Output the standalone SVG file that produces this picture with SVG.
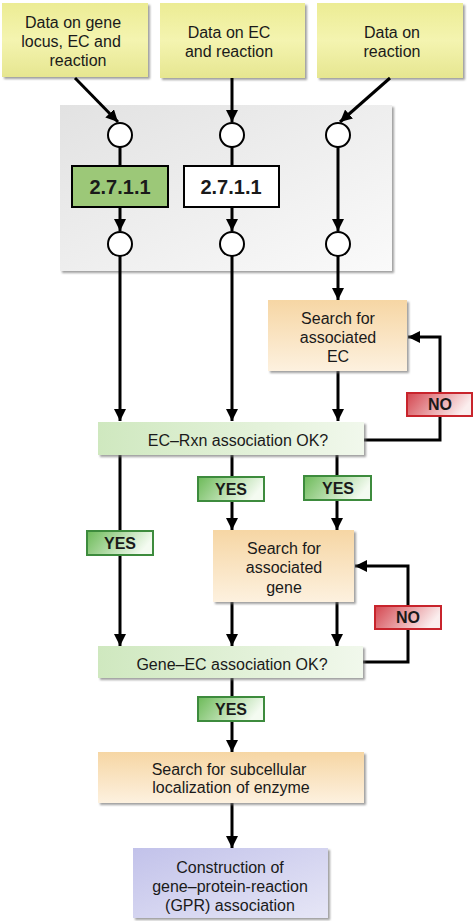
<svg xmlns="http://www.w3.org/2000/svg" width="474" height="921" viewBox="0 0 474 921">
<defs>
<style>
text{font-family:"Liberation Sans",Arial,sans-serif;fill:#1a1a1a;text-anchor:middle}
.t{font-size:16px}
.b{font-size:16px;font-weight:bold}
.ec{font-size:20px;font-weight:bold}
.ln{stroke:#000;stroke-width:3;fill:none}
.cir{fill:#fff;stroke:#000;stroke-width:2}
</style>
<linearGradient id="gy" x1="0" y1="0" x2="0" y2="1"><stop offset="0" stop-color="#ecec94"/><stop offset="0.5" stop-color="#f4f4b0"/><stop offset="1" stop-color="#e6e690"/></linearGradient>
<linearGradient id="gp" x1="0" y1="0" x2="1" y2="1"><stop offset="0" stop-color="#e2e2e2"/><stop offset="1" stop-color="#fafafa"/></linearGradient>
<linearGradient id="go" x1="0" y1="0" x2="0" y2="1"><stop offset="0" stop-color="#f6d6a4"/><stop offset="1" stop-color="#fdf1df"/></linearGradient>
<linearGradient id="gg" x1="0" y1="0" x2="1" y2="0"><stop offset="0" stop-color="#cfe8bf"/><stop offset="1" stop-color="#f1f8ec"/></linearGradient>
<linearGradient id="gv" x1="0" y1="0" x2="1" y2="1"><stop offset="0" stop-color="#c2c2ea"/><stop offset="1" stop-color="#e6e6f6"/></linearGradient>
<linearGradient id="gyes" x1="0" y1="0" x2="1" y2="0.3"><stop offset="0" stop-color="#6cba58"/><stop offset="1" stop-color="#f4fbf1"/></linearGradient>
<linearGradient id="gno" x1="0" y1="0" x2="1" y2="0.3"><stop offset="0" stop-color="#d4464f"/><stop offset="1" stop-color="#fbeeee"/></linearGradient>
<filter id="sh" x="-5%" y="-5%" width="115%" height="115%"><feDropShadow dx="2" dy="2" stdDeviation="1" flood-color="#777" flood-opacity="0.7"/></filter>
<marker id="ar" viewBox="0 0 10 10" refX="10" refY="5" markerWidth="4" markerHeight="4" orient="auto" markerUnits="strokeWidth"><path d="M0,0L10,5L0,10z" fill="#000"/></marker>
</defs>
<rect width="474" height="921" fill="#fff"/>

<g id="panel"><rect x="60" y="105" width="332" height="166" fill="url(#gp)" filter="url(#sh)"/></g>

<g id="src1"><rect x="2" y="3" width="146" height="74" fill="url(#gy)" filter="url(#sh)"/>
<text class="t" x="73" y="28">Data on gene</text><text class="t" x="71" y="47">locus, EC and</text><text class="t" x="78" y="66">reaction</text></g>
<g id="src2"><rect x="160" y="3" width="145" height="75" fill="url(#gy)" filter="url(#sh)"/>
<text class="t" x="229" y="38">Data on EC</text><text class="t" x="229" y="57">and reaction</text></g>
<g id="src3"><rect x="317" y="3" width="146" height="75" fill="url(#gy)" filter="url(#sh)"/>
<text class="t" x="392" y="38">Data on</text><text class="t" x="392" y="57">reaction</text></g>

<g id="connectors">
<line class="ln" x1="75" y1="78" x2="118" y2="122" marker-end="url(#ar)"/>
<line class="ln" x1="232" y1="78" x2="232" y2="122" marker-end="url(#ar)"/>
<line class="ln" x1="390" y1="78" x2="340" y2="122" marker-end="url(#ar)"/>
<line class="ln" x1="120" y1="147" x2="120" y2="166"/>
<line class="ln" x1="232" y1="147" x2="232" y2="166"/>
<line class="ln" x1="120" y1="207" x2="120" y2="231" marker-end="url(#ar)"/>
<line class="ln" x1="232" y1="207" x2="232" y2="231" marker-end="url(#ar)"/>
<line class="ln" x1="338" y1="147" x2="338" y2="231" marker-end="url(#ar)"/>
<line class="ln" x1="120" y1="256" x2="120" y2="421" marker-end="url(#ar)"/>
<line class="ln" x1="232" y1="256" x2="232" y2="421" marker-end="url(#ar)"/>
<line class="ln" x1="338" y1="256" x2="338" y2="300" marker-end="url(#ar)"/>
<line class="ln" x1="338" y1="371" x2="338" y2="421" marker-end="url(#ar)"/>
<polyline class="ln" points="364,440 440,440 440,337 408,337" marker-end="url(#ar)"/>
<line class="ln" x1="120" y1="455" x2="120" y2="646" marker-end="url(#ar)"/>
<line class="ln" x1="232" y1="455" x2="232" y2="530" marker-end="url(#ar)"/>
<line class="ln" x1="337" y1="455" x2="337" y2="530" marker-end="url(#ar)"/>
<line class="ln" x1="232" y1="602" x2="232" y2="646" marker-end="url(#ar)"/>
<line class="ln" x1="337" y1="602" x2="337" y2="646" marker-end="url(#ar)"/>
<polyline class="ln" points="363,662 408,662 408,566 355,566" marker-end="url(#ar)"/>
<line class="ln" x1="232" y1="678" x2="232" y2="752" marker-end="url(#ar)"/>
<line class="ln" x1="232" y1="803" x2="232" y2="848" marker-end="url(#ar)"/>
</g>

<g id="circles">
<circle class="cir" cx="120" cy="135" r="12"/><circle class="cir" cx="232" cy="135" r="12"/><circle class="cir" cx="338" cy="135" r="12"/>
<circle class="cir" cx="120" cy="244" r="12"/><circle class="cir" cx="232" cy="244" r="12"/><circle class="cir" cx="338" cy="244" r="12"/>
</g>

<g id="ec1"><rect x="72" y="166" width="96" height="41" fill="#9cc878" stroke="#000" stroke-width="2"/><text class="ec" x="120" y="194">2.7.1.1</text></g>
<g id="ec2"><rect x="184" y="166" width="95" height="41" fill="#fff" stroke="#000" stroke-width="2"/><text class="ec" x="231" y="194">2.7.1.1</text></g>

<g id="searchEC"><rect x="268" y="300" width="139" height="71" fill="url(#go)" filter="url(#sh)"/>
<text class="t" x="338" y="324">Search for</text><text class="t" x="338" y="343">associated</text><text class="t" x="338" y="362">EC</text></g>

<g id="no1"><rect x="407" y="393" width="65" height="23" fill="url(#gno)" stroke="#c8242c" stroke-width="2"/><text class="b" x="440" y="410">NO</text></g>

<g id="ecrxn"><rect x="98" y="422" width="266" height="33" fill="url(#gg)" filter="url(#sh)"/><text class="t" x="238" y="446">EC–Rxn association OK?</text></g>

<g id="yes1"><rect x="198" y="477" width="66" height="24" fill="url(#gyes)" stroke="#3d8b3d" stroke-width="2"/><text class="b" x="231" y="495">YES</text></g>
<g id="yes2"><rect x="304" y="476" width="67" height="24" fill="url(#gyes)" stroke="#3d8b3d" stroke-width="2"/><text class="b" x="338" y="494">YES</text></g>
<g id="yes3"><rect x="87" y="531" width="66" height="24" fill="url(#gyes)" stroke="#3d8b3d" stroke-width="2"/><text class="b" x="120" y="549">YES</text></g>

<g id="searchGene"><rect x="213" y="530" width="141" height="72" fill="url(#go)" filter="url(#sh)"/>
<text class="t" x="284" y="554">Search for</text><text class="t" x="284" y="573">associated</text><text class="t" x="284" y="593">gene</text></g>

<g id="no2"><rect x="375" y="606" width="66" height="23" fill="url(#gno)" stroke="#c8242c" stroke-width="2"/><text class="b" x="408" y="623">NO</text></g>

<g id="geneec"><rect x="98" y="646" width="265" height="32" fill="url(#gg)" filter="url(#sh)"/><text class="t" x="232" y="670">Gene–EC association OK?</text></g>

<g id="yes4"><rect x="198" y="697" width="66" height="24" fill="url(#gyes)" stroke="#3d8b3d" stroke-width="2"/><text class="b" x="231" y="715">YES</text></g>

<g id="subcell"><rect x="98" y="752" width="266" height="51" fill="url(#go)" filter="url(#sh)"/>
<text class="t" x="229" y="775">Search for subcellular</text><text class="t" x="231" y="793">localization of enzyme</text></g>

<g id="gpr"><rect x="133" y="848" width="195" height="70" fill="url(#gv)" filter="url(#sh)"/>
<text class="t" x="230" y="873">Construction of</text><text class="t" x="230" y="892">gene–protein-reaction</text><text class="t" x="230" y="911">(GPR) association</text></g>
</svg>
